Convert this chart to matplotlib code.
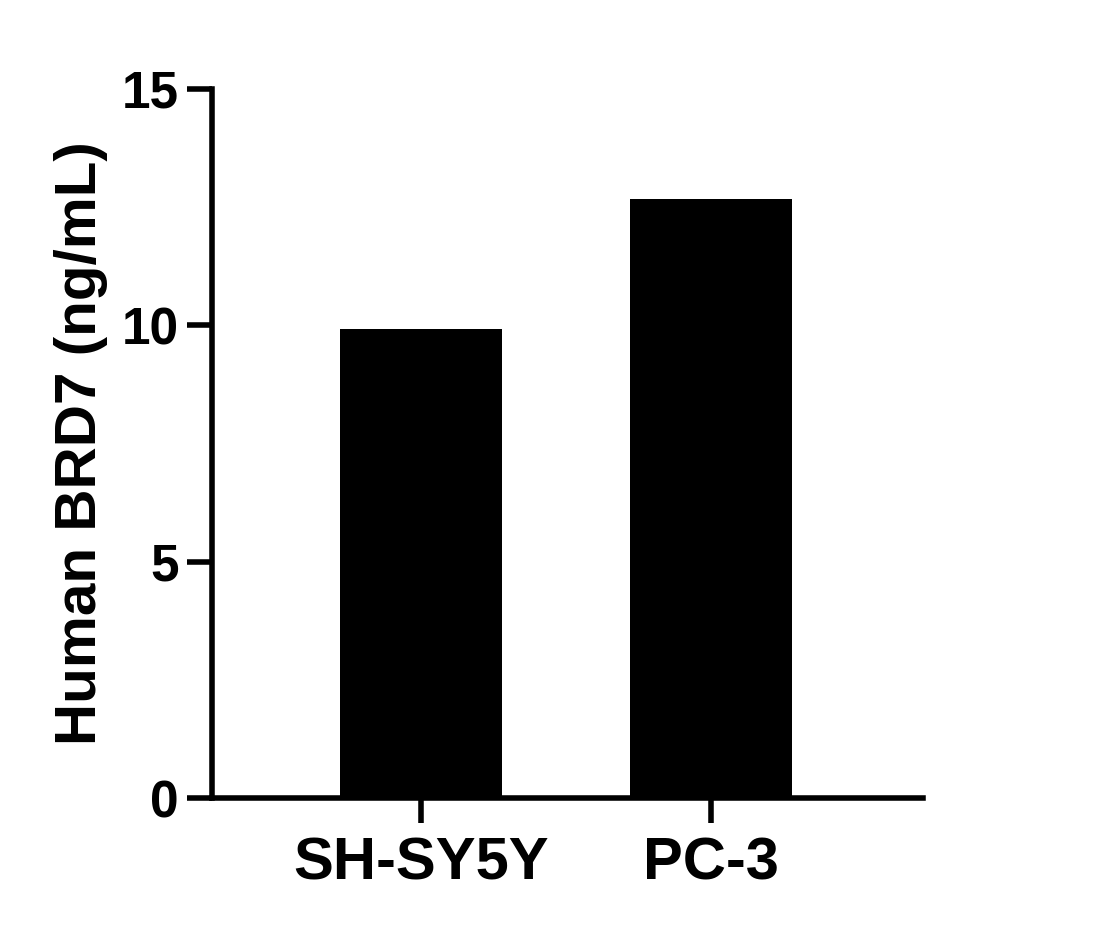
import matplotlib
matplotlib.use("Agg")
import matplotlib.pyplot as plt

categories = ["SH-SY5Y", "PC-3"]
values = [9.92, 12.67]
y_ticks = [0, 5, 10, 15]
y_label = "Human BRD7 (ng/mL)"

plt.rcParams['font.family'] = ['Liberation Sans', 'DejaVu Sans']
plt.rcParams['font.weight'] = 'bold'

W, H = 1101, 934
fig = plt.figure(figsize=(W/100, H/100), dpi=100)
ax = fig.add_axes([212/W, (H-798)/H, (923-212)/W, (798-89)/H])

x = list(range(len(categories)))
ax.bar(x, values, width=0.5586, color='black', edgecolor='black', linewidth=0)

ax.set_xlim(-0.7207, 1.731)
ax.set_ylim(0, 15)
ax.set_yticks(y_ticks)
ax.set_xticks(x)
ax.set_xticklabels(categories)

for s in ['top', 'right']:
    ax.spines[s].set_visible(False)
for s in ['left', 'bottom']:
    ax.spines[s].set_linewidth(4)
    ax.spines[s].set_capstyle('projecting')

ax.tick_params(axis='y', length=18, width=4, pad=6, labelsize=37)
ax.tick_params(axis='x', length=18, width=4, pad=10, labelsize=43)
for lab in ax.get_xticklabels() + ax.get_yticklabels():
    lab.set_fontweight('bold')

ax.set_ylabel(y_label, fontsize=42, fontweight='bold', labelpad=10)

fig.savefig("out.png", dpi=100)
